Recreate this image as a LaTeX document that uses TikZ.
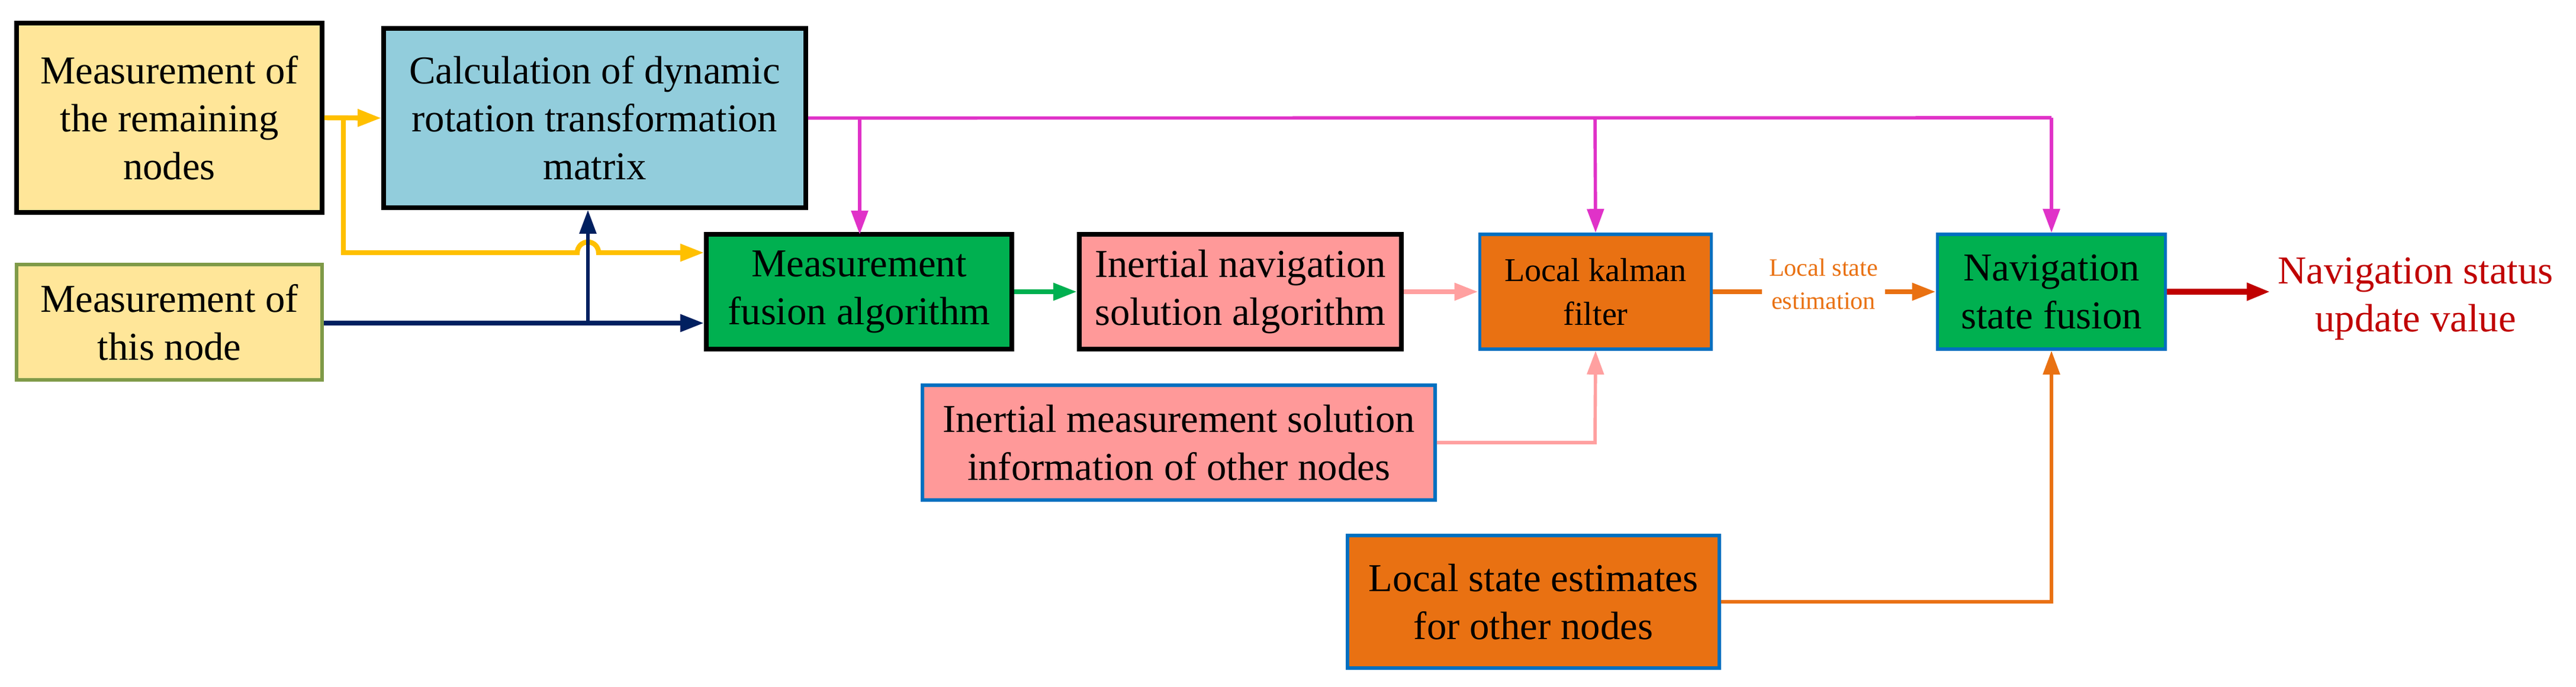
\documentclass[tikz,border=0pt]{standalone}
\usepackage{fontspec}
\setmainfont{Liberation Serif}
\usetikzlibrary{arrows.meta}
\definecolor{cyel}{HTML}{FFE699}
\definecolor{ccal}{HTML}{92CDDC}
\definecolor{cgrn}{HTML}{00B050}
\definecolor{cpnk}{HTML}{FF9999}
\definecolor{corg}{HTML}{E97112}
\definecolor{cmag}{HTML}{E032C8}
\definecolor{cyl}{HTML}{FFC000}
\definecolor{cnav}{HTML}{002060}
\definecolor{clp}{HTML}{FFA0A0}
\definecolor{cred}{HTML}{C00000}
\definecolor{cblu}{HTML}{0070C0}
\definecolor{colv}{HTML}{7F9A48}
\begin{document}
\begin{tikzpicture}[
  box/.style={draw=black,line width=2.2pt,align=center,inner sep=2pt,font=\fontsize{19}{23}\selectfont},
  bbox/.style={box,draw=cblu,line width=1.6pt},
  tip/.style={-{Triangle[length=0.4cm,width=0.28cm]}},
  ln/.style={line width=2.4pt,tip}]
\useasboundingbox (0,0) rectangle (43.51,-11.60);
\node[box,fill=cyel,minimum width=5.16cm,minimum height=3.2cm] (rem) at (2.86,-1.99) {Measurement of\\the remaining\\nodes};
\node[box,fill=ccal,minimum width=7.13cm,minimum height=3.03cm] (cal) at (10.045,-1.995) {Calculation of dynamic\\rotation transformation\\matrix};
\node[box,draw=colv,line width=1.6pt,fill=cyel,minimum width=5.16cm,minimum height=1.95cm] (thn) at (2.86,-5.445) {Measurement of\\this node};
\node[box,fill=cgrn,minimum width=5.16cm,minimum height=1.94cm] (mf) at (14.51,-4.93) {Measurement\\fusion algorithm};
\node[box,fill=cpnk,minimum width=5.44cm,minimum height=1.94cm] (ins) at (20.95,-4.93) {Inertial navigation\\solution algorithm};
\node[bbox,fill=corg,minimum width=3.91cm,minimum height=1.94cm,font=\fontsize{16}{21}\selectfont] (kal) at (26.95,-4.93) {Local kalman\\filter};
\node[bbox,fill=cgrn,minimum width=3.85cm,minimum height=1.94cm] (nsf) at (34.65,-4.93) {Navigation\\state fusion};
\node[bbox,fill=cpnk,minimum width=8.66cm,minimum height=1.94cm] (ims) at (19.91,-7.48) {Inertial measurement solution\\information of other nodes};
\node[bbox,fill=corg,minimum width=6.28cm,minimum height=2.24cm] (lse) at (25.90,-10.17) {Local state estimates\\for other nodes};
\node[align=center,text=cred,font=\fontsize{19}{23}\selectfont] (out) at (40.8,-5.05) {Navigation status\\update value};
\coordinate (yj) at (5.80,-1.99);
\coordinate (nj) at (9.93,-5.46);
% yellow
\draw[ln,cyl] (rem.east) -- (cal.west);
\draw[ln,cyl] (yj) -- (5.80,-4.27) -- (9.75,-4.27) arc (180:0:0.18) -- (mf.west|-0,-4.27);
% navy
\draw[ln,cnav] (thn.east|-0,-5.46) -- (mf.west|-0,-5.46);
\draw[line width=1.6pt,cnav,tip] (nj) -- (nj|-cal.south);
% magenta
\draw[line width=1.6pt,cmag] (cal.east) -- (34.65,-1.99);
\draw[line width=1.6pt,cmag,tip] (14.52,-1.99) -- (14.52,-3.96);
\draw[line width=1.6pt,cmag,tip] (26.94,-1.99) -- (kal.north);
\draw[line width=1.6pt,cmag,tip] (34.65,-1.99) -- (nsf.north);
% green / pink
\draw[ln,cgrn] (mf.east) -- (ins.west);
\draw[ln,clp] (ins.east) -- (kal.west);
\draw[line width=1.6pt,clp,tip] (ims.east) -- (26.94,-7.48) -- (kal.south);
% orange
\node[text=corg,align=center,font=\fontsize{12}{16}\selectfont] (lbl) at (30.8,-4.8) {Local state\\estimation};
\draw[line width=2.4pt,corg] (kal.east) -- (lbl.west|-kal.east);
\draw[ln,corg] (lbl.east|-nsf.west) -- (nsf.west);
\draw[line width=1.6pt,corg,tip] (lse.east) -- (34.65,-10.17) -- (nsf.south);
% red
\draw[line width=3pt,cred,tip] (nsf.east) -- (out.west|-nsf.east);
\end{tikzpicture}
\end{document}
